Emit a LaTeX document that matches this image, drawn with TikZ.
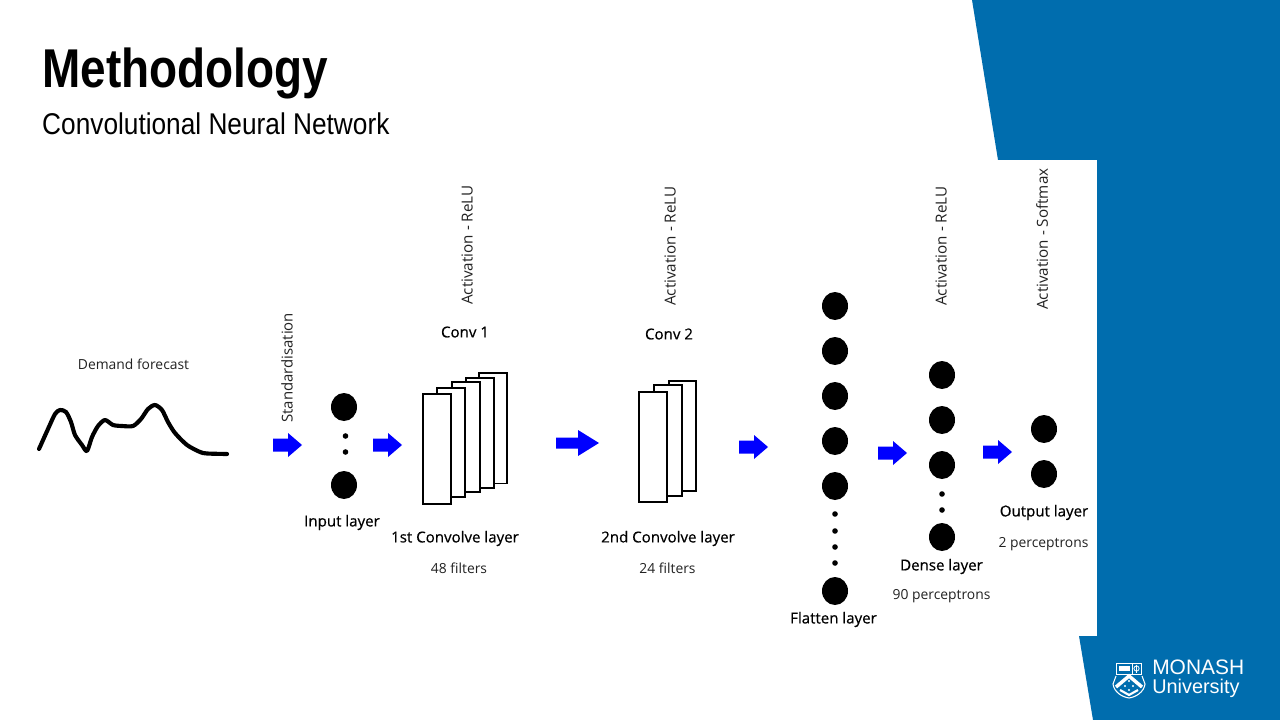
\documentclass[tikz,border=0pt]{standalone}
\usepackage{fontspec}
\setmainfont{Open Sans}
\newfontfamily\headfont{Liberation Sans}
\newfontfamily\semifont[FakeBold=0.5]{Open Sans}
\definecolor{monash}{HTML}{006DAE}
\definecolor{labelgrey}{HTML}{222222}
\tikzset{
  x=0.75pt,y=-0.75pt,
  neuron/.style={ellipse,fill=black,draw=none,minimum width=19.5pt,minimum height=21pt,inner sep=0pt},
  tinydot/.style={circle,fill=black,draw=none,minimum width=4.2pt,inner sep=0pt},
  filter/.style={draw=black,fill=white,line width=1.1pt},
  lab/.style={font=\fontsize{10.4}{13}\selectfont,text=labelgrey,inner sep=0pt,anchor=center},
  blab/.style={font=\semifont\fontsize{11.3}{13}\selectfont,text=black,inner sep=0pt,anchor=center},
  vlab/.style={font=\fontsize{11.4}{13}\selectfont,text=labelgrey,inner sep=0pt,rotate=90,anchor=west},
}
% left x, tip x, head-start x, centre y, shaft half height, head half height
\newcommand{\blockarr}[6]{\fill[blue] (#1,#4-#5) -- (#3,#4-#5) -- (#3,#4-#6) -- (#2,#4) -- (#3,#4+#6) -- (#3,#4+#5) -- (#1,#4+#5) -- cycle;}
\usetikzlibrary{shapes.geometric}
\begin{document}
\begin{tikzpicture}
\useasboundingbox (0,0) rectangle (1280,720);
\fill[white] (0,0) rectangle (1280,720);
\fill[monash] (972,0) -- (1280,0) -- (1280,720) -- (1093,720) -- (1079,636) -- (1097,636) -- (1097,160) -- (998,160) -- cycle;
\node[inner sep=0pt,anchor=base west,xscale=0.84] (title) at (42,88) {\headfont\bfseries\fontsize{41}{46}\selectfont Methodology};
\node[inner sep=0pt,anchor=base west,xscale=0.875] (sub) at (42,135) {\headfont\fontsize{22.5}{26}\selectfont Convolutional Neural Network};
% demand curve
\node[lab] (demand) at (133.5,364.5) {Demand forecast};
\draw[line width=3.1pt,line cap=round,line join=round] plot[smooth,tension=0.45] coordinates {(39,449) (48,429) (55,414) (60,410) (66,412) (71,422) (75,435) (82,445) (87,451) (92,437) (98,426) (105,420) (113,425) (122,426) (133,426) (141,419) (148,409) (155,405) (162,410) (168,422) (175,433) (187,445) (200,452) (207,453.5) (227,454)};
\node[vlab,font=\fontsize{11.2}{13}\selectfont] (std) at (287,423) {Standardisation};
\blockarr{273}{302}{288}{445}{6.5}{12}
\node[neuron] (i1) at (344,407) {};
\node[tinydot] (i2) at (345.5,436) {};
\node[tinydot] (i3) at (345.5,452) {};
\node[neuron] (i4) at (344,485) {};
\node[blab] (inp) at (342,522.5) {Input layer};
\blockarr{373}{402}{388}{445}{6.5}{12}
% conv 1
\node[vlab] (ac1) at (467,305) {Activation - ReLU};
\node[blab] (c1) at (465,332) {Conv 1};
\draw[filter] (479,373) rectangle (507,483.5);
\draw[filter] (466,378) rectangle (494,488);
\draw[filter] (452,382) rectangle (480,492);
\draw[filter] (437,388) rectangle (465,497);
\draw[filter] (423,394) rectangle (451,504);
\node[blab] (l1) at (455,538.5) {1st Convolve layer};
\node[lab] (f1) at (459,568.5) {48 filters};
\blockarr{556}{599}{578}{443}{5.5}{13}
% conv 2
\node[vlab] (ac2) at (670,306) {Activation - ReLU};
\node[blab] (c2) at (669,334) {Conv 2};
\draw[filter] (669,381) rectangle (696,491);
\draw[filter] (654,385) rectangle (682,496);
\draw[filter] (639,392) rectangle (667,502);
\node[blab] (l2) at (668,538.5) {2nd Convolve layer};
\node[lab] (f2) at (667.5,568.5) {24 filters};
\blockarr{739}{768}{754}{447}{6.5}{12}
% flatten
\node[neuron] (n1) at (835,306) {};
\node[neuron] (n2) at (835,351) {};
\node[neuron] (n3) at (835,396) {};
\node[neuron] (n4) at (835,441) {};
\node[neuron] (n5) at (835,486) {};
\node[tinydot] (n6) at (835,514) {};
\node[tinydot] (n7) at (835,531) {};
\node[tinydot] (n8) at (835,547) {};
\node[tinydot] (n9) at (835,563) {};
\node[neuron] (n10) at (835,591) {};
\node[blab] (lf) at (833.5,619.5) {Flatten layer};
\blockarr{878}{907}{893}{453}{6.5}{12}
% dense
\node[vlab] (ac3) at (941,306) {Activation - ReLU};
\node[neuron] (d1) at (942,375) {};
\node[neuron] (d2) at (942,420) {};
\node[neuron] (d3) at (942,465) {};
\node[tinydot] (d4) at (942,494) {};
\node[tinydot] (d5) at (942,510) {};
\node[neuron] (d6) at (942,537) {};
\node[blab] (ld) at (941.5,566.5) {Dense layer};
\node[lab] (fd) at (941.5,596.5) {90 perceptrons};
\blockarr{983}{1012}{998}{452}{6.5}{12}
% output
\node[vlab] (ac4) at (1042,310) {Activation - Softmax};
\node[neuron] (o1) at (1044,429) {};
\node[neuron] (o2) at (1044,474) {};
\node[blab] (lo) at (1044,512.5) {Output layer};
\node[lab] (fo) at (1043.5,544.5) {2 perceptrons};
% logo
\begin{scope}[white,line width=0.6pt]
\draw (1116,663) rectangle (1141,674);
\draw (1132,663) -- (1132,674);
\fill (1119,665.5) rectangle (1130,671);
\draw (1136.5,668.5) circle[radius=2.6];
\draw (1136.5,664.5) -- (1136.5,672.5);
\draw[line width=2.6pt,line join=miter] (1116,687) -- (1129,676) -- (1142,687);
\draw[line width=0.8pt] (1116,676) -- (1113,684) .. controls (1114,692) and (1122,697) .. (1129,698) .. controls (1136,697) and (1144,692) .. (1145,684) -- (1142,676);
\draw[line width=1.6pt] (1120,690) -- (1129,695) -- (1138,690);
\fill (1129,681) circle[radius=1.2] (1125,686) circle[radius=1.2] (1133,686) circle[radius=1.2] (1129,690) circle[radius=1.2];
\end{scope}
\node[inner sep=0pt,anchor=base west,white,align=left] (mon) at (1152,693.5) {\headfont\fontsize{15.7}{13.1}\selectfont MONASH\\[2.2pt]\headfont\fontsize{14.9}{13.1}\selectfont University};
\end{tikzpicture}
\end{document}
